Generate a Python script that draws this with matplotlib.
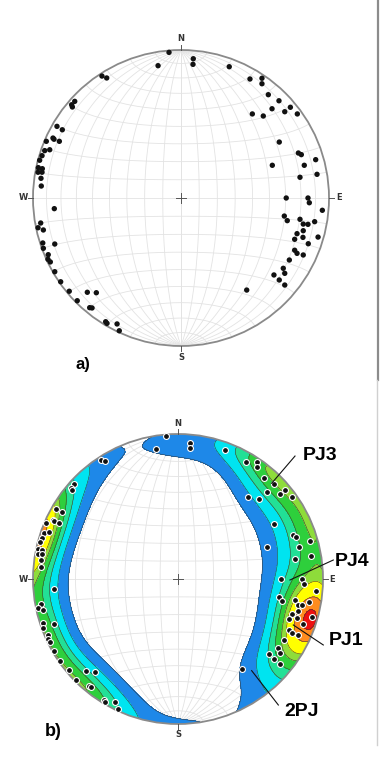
import numpy as np
import matplotlib
matplotlib.use("Agg")
import matplotlib.pyplot as plt
from matplotlib.patches import Circle, Wedge
from matplotlib.lines import Line2D

# ---------------- data: poles (equal-area, lower hemisphere, unit net) -------------
pole_east = [
    -0.081, -0.155, 0.083, 0.081, 0.326,
    0.466, 0.547, 0.547, 0.590, 0.662, 0.615, 0.701, 0.739, 0.786, 0.482, 0.556,
    0.664, 0.793, 0.813, 0.910, 0.617, 0.833, 0.919, 0.804,
    0.711, 0.858, 0.867, 0.955, 0.698, 0.718, 0.804, 0.826, 0.858, 0.903,
    0.826, 0.784, 0.768, 0.824, 0.926, 0.860, 0.768, 0.784, 0.826, 0.732,
    0.691, 0.701, 0.628, 0.664, 0.701, 0.444,
    -0.534, -0.502, -0.718, -0.739, -0.734, -0.838, -0.802, -0.910, -0.865, -0.858, -0.822,
    -0.921, -0.887, -0.939, -0.955, -0.964, -0.937, -0.966, -0.939, -0.946, -0.944,
    -0.856, -0.948, -0.966, -0.930, -0.934, -0.853, -0.930, -0.897, -0.899, -0.883,
    -0.853, -0.813, -0.755, -0.633, -0.572, -0.701, -0.617, -0.601, -0.509, -0.500, -0.432, -0.417,
]
pole_north = [
    0.984, 0.894, 0.941, 0.903, 0.887,
    0.804, 0.809, 0.772, 0.698, 0.657, 0.603, 0.583, 0.613, 0.568, 0.568, 0.554,
    0.378, 0.304, 0.293, 0.259, 0.221, 0.221, 0.160, 0.140,
    0.000, 0.000, -0.032, -0.083, -0.122, -0.153, -0.144, -0.176, -0.178, -0.160,
    -0.221, -0.241, -0.279, -0.266, -0.264, -0.309, -0.353, -0.374, -0.385, -0.419,
    -0.475, -0.509, -0.520, -0.554, -0.588, -0.622,
    0.824, 0.811, 0.653, 0.630, 0.615, 0.484, 0.461, 0.383, 0.405, 0.397, 0.383,
    0.320, 0.326, 0.286, 0.255, 0.205, 0.198, 0.174, 0.174, 0.133, 0.081,
    -0.072, -0.169, -0.201, -0.216, -0.304, -0.311, -0.340, -0.383, -0.414, -0.432,
    -0.498, -0.566, -0.630, -0.637, -0.640, -0.694, -0.741, -0.743, -0.836, -0.847, -0.851, -0.897,
]
assert len(pole_east) == len(pole_north)

compass_labels = ["N", "E", "S", "W"]
panel_labels = ["a)", "b)"]
set_labels = ["PJ3", "PJ4", "PJ1", "2PJ"]
# cumulative share of the net area lying below each contour boundary
band_area_share = [0.60, 0.74, 0.82, 0.875, 0.935, 0.965, 0.985, 0.997]
band_colors = ['#1e88e8', '#00e4f0', '#22e096', '#2ecf3c', '#8edc3a',
               '#ffff00', '#ff8c1e', '#ee1010']

# ---------------- helpers ----------------
W, H = 380, 759
fig = plt.figure(figsize=(W / 100, H / 100), dpi=100)


def project(e, n, d):
    f = 1.0 / np.sqrt(1.0 + d)
    return e * f, n * f


def unproject(x, y):
    x = np.asarray(x, dtype=float)
    y = np.asarray(y, dtype=float)
    r2 = np.clip(x ** 2 + y ** 2, 0, 1)
    d = 1.0 - r2
    f = np.sqrt(1.0 + d)
    e, n = x * f, y * f
    norm = np.sqrt(e ** 2 + n ** 2 + d ** 2)
    return e / norm, n / norm, d / norm


def add_net(cx, cy, R, lim):
    ax = fig.add_axes([(cx - lim * R) / W, (H - cy - lim * R) / H,
                       2 * lim * R / W, 2 * lim * R / H])
    ax.set_xlim(-lim, lim)
    ax.set_ylim(-lim, lim)
    ax.axis('off')
    return ax


def draw_grid(ax, zorder=2):
    t = np.linspace(0, np.pi, 241)
    gkw = dict(color='#e3e3e3', lw=0.6, zorder=zorder)
    for dip in range(10, 91, 10):
        dd = np.radians(dip)
        for s in (1, -1):
            e = s * np.sin(t) * np.cos(dd)
            n = np.cos(t)
            d = np.sin(t) * np.sin(dd)
            x, y = project(e, n, d)
            ax.plot(x, y, **gkw)
    for a in range(10, 171, 10):
        aa = np.radians(a)
        n = np.cos(aa) * np.ones_like(t)
        e = np.sin(aa) * np.cos(t)
        d = np.sin(aa) * np.sin(t)
        x, y = project(e, n, d)
        ax.plot(x, y, **gkw)


def draw_frame(ax, fs=6):
    ax.add_patch(Circle((0, 0), 1, fill=False, ec='#8a8a8a', lw=1.3, zorder=6))
    ax.plot([-0.035, 0.035], [0, 0], color='#555555', lw=0.7, zorder=6)
    ax.plot([0, 0], [-0.035, 0.035], color='#555555', lw=0.7, zorder=6)
    dirs = {"N": (0, 1), "E": (1, 0), "S": (0, -1), "W": (-1, 0)}
    for lab in compass_labels:
        ux, uy = dirs[lab]
        ax.plot([ux, ux * 1.035], [uy, uy * 1.035], color='#555555', lw=0.7, zorder=6)
        ax.text(ux * 1.065, uy * 1.075, lab, fontsize=fs,
                ha='center', va='center', color='#333333', fontweight='bold',
                family='DejaVu Sans', clip_on=False, zorder=6)


px = np.array(pole_east)
py = np.array(pole_north)

# ---------------- panel a ----------------
axa = add_net(181, 198, 148, 1.2)
draw_grid(axa)
draw_frame(axa)
axa.scatter(px, py, s=15, c='#111111', edgecolors='none', zorder=7)
fig.text(83 / W, 1 - 365 / H, panel_labels[0], fontsize=12, fontweight='bold',
         family='Liberation Sans', ha='center', va='center')

# ---------------- panel b ----------------
axb = add_net(178, 579, 145, 1.22)

# axial kernel density on the sphere (exponential Kamb-type)
pe, pn, pd = unproject(px, py)
gx = np.linspace(-1.03, 1.03, 121)
GX, GY = np.meshgrid(gx, gx)
ge, gn, gd = unproject(GX, GY)
cosang = np.abs(ge[..., None] * pe[None, None, :] + gn[..., None] * pn[None, None, :]
                + gd[..., None] * pd[None, None, :])
k = 24.0
dens = np.exp(k * (np.clip(cosang, 0, 1) - 1.0)).sum(axis=-1)
inside = GX ** 2 + GY ** 2 <= 1.0
levels = list(np.quantile(dens[inside], band_area_share)) + [dens.max() * 1.01]

axb.contourf(GX, GY, dens, levels=levels, colors=band_colors, zorder=1)
axb.contour(GX, GY, dens, levels=levels[:-1], colors='#3a3a3a',
            linewidths=0.4, zorder=1.5)
# white mask outside the primitive circle
axb.add_patch(Wedge((0, 0), 1.5, 0, 360, width=0.5, fc='white', ec='none', zorder=3))
draw_grid(axb, zorder=0.5)
draw_frame(axb)
axb.scatter(px, py, s=18, c='#111111', edgecolors='white', linewidths=0.8, zorder=7)

label_pos = [(0.979, 0.855), (1.20, 0.124), (1.159, -0.421), (0.855, -0.917)]
leader_from = [(0.807, 0.848), (1.071, 0.131), (1.002, -0.455), (0.692, -0.869)]
leader_to = [(0.646, 0.660), (0.772, -0.007), (0.795, -0.317), (0.508, -0.632)]
for lab, (tx, ty), (x0, y0), (x1, y1) in zip(set_labels, label_pos, leader_from, leader_to):
    axb.plot([x0, x1], [y0, y1], color='#111111', lw=0.8, zorder=8, clip_on=False)
    axb.text(tx, ty, lab, fontsize=14, fontweight='bold', family='Liberation Sans',
             ha='center', va='center', clip_on=False, zorder=9)

fig.text(53 / W, 1 - 732 / H, panel_labels[1], fontsize=13, fontweight='bold',
         family='Liberation Sans', ha='center', va='center')

# page edge line
fig.add_artist(Line2D([377.5 / W, 377.5 / W], [1.0, 1 - 380 / H], color='#8c8c8c', lw=1.6))
fig.add_artist(Line2D([376.5 / W, 376.5 / W], [1 - 380 / H, 1 - 745 / H], color='#d0d0d0', lw=1.0))

fig.savefig('out.png', dpi=100, facecolor='white')
